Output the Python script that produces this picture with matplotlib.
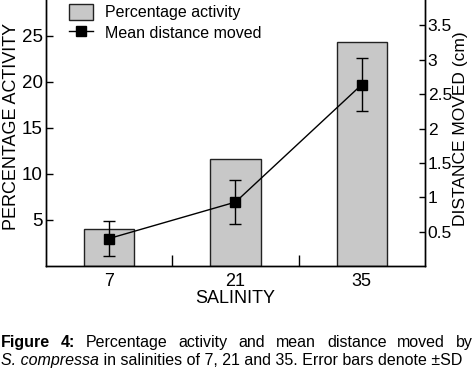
import numpy as np
import matplotlib
matplotlib.use("Agg")
import matplotlib.pyplot as plt
from matplotlib.ticker import FixedLocator
from matplotlib.lines import Line2D

plt.rcParams['font.family'] = ['Liberation Sans', 'DejaVu Sans']

# data
salinity = ['7', '21', '35']
activity = [4.0, 11.6, 24.3]          # percentage activity (bars, left axis)
distance = [0.40, 0.93, 2.64]         # mean distance moved (cm, right axis)
distance_sd = [0.25, 0.32, 0.38]

fig = plt.figure(figsize=(4.74, 3.69), dpi=100)
ax = fig.add_axes([46/474, 103/369, 379/474, 266/369])
ax2 = ax.twinx()

x = np.arange(len(salinity))
bars = ax.bar(x, activity, width=0.4, color='#c8c8c8', edgecolor='#222222',
              linewidth=1.0, label='Percentage activity', zorder=1)
ax2.errorbar(x, distance, yerr=distance_sd, color='black', marker='s',
             markersize=6.5, linewidth=1.0, capsize=4, elinewidth=1.0,
             capthick=1.0)

ax.set_xlim(-0.5, 2.5)
ax.set_ylim(0, 28.9)
ax2.set_ylim(0, 3.87)

ax.set_xticks(x)
ax.set_xticklabels(salinity, fontsize=13)
ax.xaxis.set_minor_locator(FixedLocator([0.5, 1.5]))
ax.tick_params(axis='x', which='major', length=0, pad=5)
ax.tick_params(axis='x', which='minor', direction='in', length=8, width=1)

# y ticks point into the plot on both sides
ax.set_yticks([5, 10, 15, 20, 25])
ax.tick_params(axis='y', direction='in', labelsize=13.5, length=5, width=1,
               pad=2.5)
ax2.set_yticks([0.5, 1, 1.5, 2, 2.5, 3, 3.5])
ax2.set_yticklabels(['0.5', '1', '1.5', '2', '2.5', '3', '3.5'])
ax2.tick_params(axis='y', direction='in', labelsize=12.5, length=4, width=1,
                pad=2)

for a in (ax, ax2):
    a.spines['top'].set_visible(False)
    for s in ('left', 'right', 'bottom'):
        a.spines[s].set_linewidth(1.0)

ax.set_xlabel('SALINITY', fontsize=13, labelpad=0)
fig.text(12/474, 1 - 126/369, 'PERCENTAGE ACTIVITY', fontsize=13,
         rotation=90, ha='center', va='center')
fig.text(461/474, 1 - 129/369, 'DISTANCE MOVED (cm)', fontsize=12.5,
         rotation=90, ha='center', va='center')

line_handle = Line2D([], [], color='black', marker='s', markersize=6.5,
                     linewidth=1.0)
ax.legend([bars, line_handle], ['Percentage activity', 'Mean distance moved'],
          loc='upper left', bbox_to_anchor=(0.045, 1.01),
          frameon=False, fontsize=11.5, handlelength=1.5, handleheight=1.2,
          handletextpad=0.7, labelspacing=0.25, borderaxespad=0)

# caption, first line justified to the full width
fig.canvas.draw()
r = fig.canvas.get_renderer()
words = [('Figure', 'bold'), ('4:', 'bold'), ('Percentage', 'normal'),
         ('activity', 'normal'), ('and', 'normal'), ('mean', 'normal'),
         ('distance', 'normal'), ('moved', 'normal'), ('by', 'normal')]
cap_size = 11.5
y1 = 1 - 347/369
arts = [fig.text(0, y1, w, fontsize=cap_size, fontweight=fw, va='baseline')
        for w, fw in words]
widths = [t.get_window_extent(r).width for t in arts]
total_w = fig.bbox.width - 2
gap = (total_w - sum(widths)) / (len(words) - 1)
pos = 1
for t, w in zip(arts, widths):
    t.set_x(pos / fig.bbox.width)
    pos += w + gap

y2 = 1 - 365/369
t1 = fig.text(1/474, y2, 'S. compressa', fontsize=cap_size, style='italic',
              va='baseline')
w1 = t1.get_window_extent(r).width
fig.text((1 + w1) / fig.bbox.width, y2,
         ' in salinities of 7, 21 and 35. Error bars denote \u00b1SD',
         fontsize=cap_size, va='baseline')

fig.savefig('out.png', dpi=100)
